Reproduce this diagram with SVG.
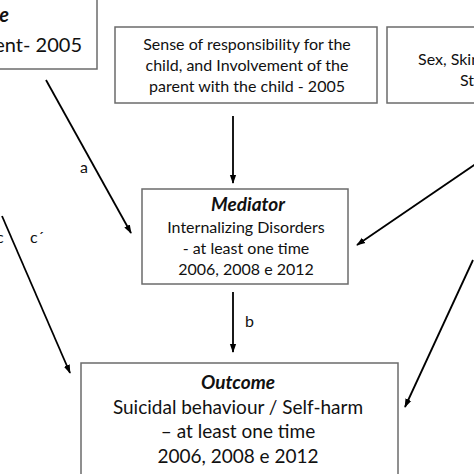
<svg xmlns="http://www.w3.org/2000/svg" width="474" height="474" viewBox="0 0 474 474">
<style>
.box{fill:#fff;stroke:#6b6b6b;stroke-width:1.5}
.t{font-family:Lato,"Liberation Sans",sans-serif;fill:#111;text-anchor:middle}
.s16{font-size:16px}
.s19{font-size:19px}
.s20{font-size:20px}
.bi{font-weight:bold;font-style:italic}
.lbl{font-family:Lato,"Liberation Sans",sans-serif;font-size:16px;fill:#111}
.arr{stroke:#000;stroke-width:1.8;fill:none;marker-end:url(#ah)}
</style>
<defs>
<marker id="ah" viewBox="0 0 10 10" refX="9" refY="5" markerWidth="5" markerHeight="5" orient="auto" markerUnits="strokeWidth">
<path d="M0,1.5 L10,5 L0,8.5 z" fill="#000"/>
</marker>
</defs>
<rect width="474" height="474" fill="#fff"/>
<g id="exposure">
<rect class="box" x="-10" y="-10" width="107" height="79"/>
<text class="t s20 bi" x="9" y="22" style="text-anchor:end">e</text>
<text class="t s20" x="82" y="52" style="text-anchor:end">ment- 2005</text>
</g>
<g id="responsibility">
<rect class="box" x="115" y="27" width="262" height="76"/>
<text class="t s16" x="247" y="50">Sense of responsibility for the</text>
<text class="t s16" x="247" y="71">child, and Involvement of the</text>
<text class="t s16" x="247" y="92">parent with the child - 2005</text>
</g>
<g id="covariates">
<rect class="box" x="387" y="27" width="100" height="76"/>
<text class="t s16" x="418" y="65" style="text-anchor:start">Sex, Skin</text>
<text class="t s16" x="460" y="86" style="text-anchor:start">St</text>
</g>
<g id="mediator">
<rect class="box" x="142" y="189" width="206" height="95"/>
<text class="t s19 bi" x="248" y="211">Mediator</text>
<text class="t s16" x="246" y="233">Internalizing Disorders</text>
<text class="t s16" x="246" y="254">- at least one time</text>
<text class="t s16" x="246" y="275">2006, 2008 e 2012</text>
</g>
<g id="outcome">
<rect class="box" x="81" y="363" width="317" height="120"/>
<text class="t s19 bi" x="238" y="389">Outcome</text>
<text class="t s19" x="238" y="414">Suicidal behaviour / Self-harm</text>
<text class="t s19" x="238" y="438">– at least one time</text>
<text class="t s19" x="238" y="463">2006, 2008 e 2012</text>
</g>
<g id="connectors">
<line class="arr" x1="46" y1="80" x2="131" y2="233"/>
<line class="arr" x1="233" y1="116" x2="233" y2="183"/>
<line class="arr" x1="480" y1="161" x2="357" y2="245"/>
<line class="arr" x1="233" y1="292" x2="233" y2="352"/>
<line class="arr" x1="473" y1="260" x2="405" y2="407"/>
<line class="arr" x1="2" y1="216" x2="70" y2="373"/>
<text class="lbl" x="80" y="173">a</text>
<text class="lbl" x="245" y="327">b</text>
<text class="lbl" x="-4" y="243">c</text>
<text class="lbl" x="30" y="243">c´</text>
</g>
</svg>
